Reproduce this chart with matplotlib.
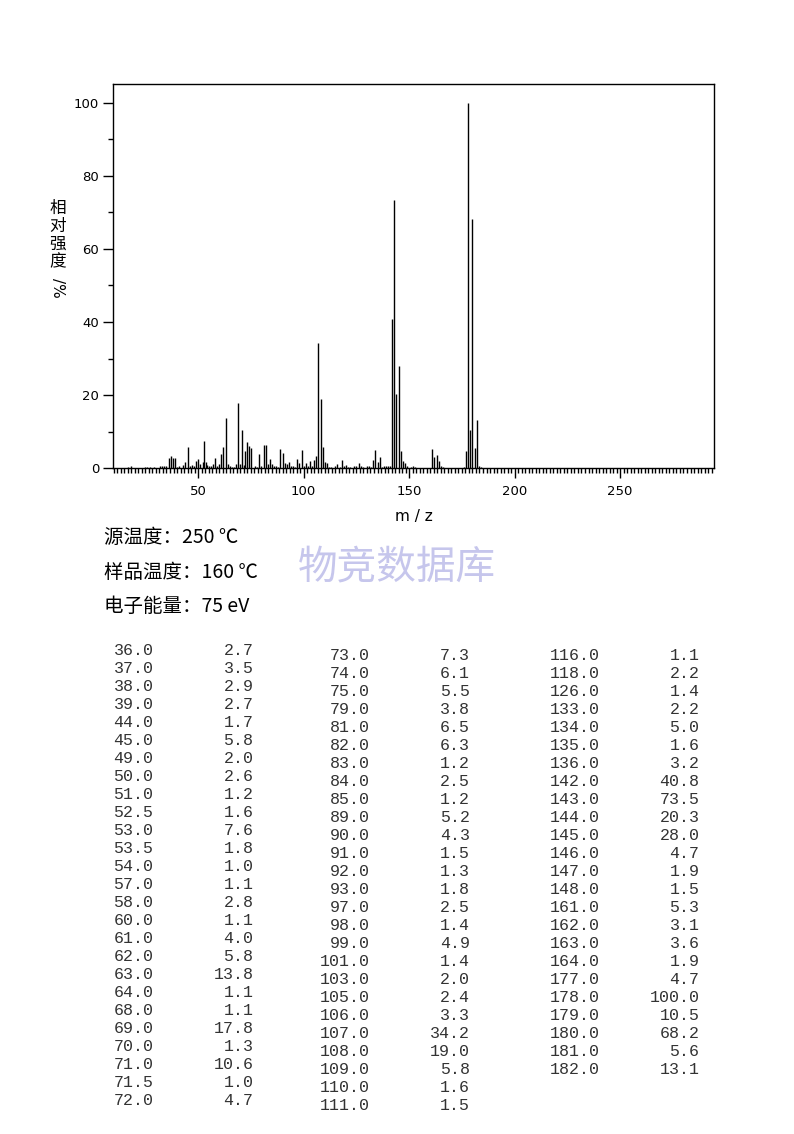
import numpy as np
import matplotlib
matplotlib.use("Agg")
import matplotlib.pyplot as plt
from matplotlib.ticker import FixedLocator

# ---- data: listed peaks (m/z, relative intensity %) ----
mz_col1 = [36.0, 37.0, 38.0, 39.0, 44.0, 45.0, 49.0, 50.0, 51.0, 52.5, 53.0, 53.5, 54.0,
           57.0, 58.0, 60.0, 61.0, 62.0, 63.0, 64.0, 68.0, 69.0, 70.0, 71.0, 71.5, 72.0]
int_col1 = [2.7, 3.5, 2.9, 2.7, 1.7, 5.8, 2.0, 2.6, 1.2, 1.6, 7.6, 1.8, 1.0,
            1.1, 2.8, 1.1, 4.0, 5.8, 13.8, 1.1, 1.1, 17.8, 1.3, 10.6, 1.0, 4.7]
mz_col2 = [73.0, 74.0, 75.0, 79.0, 81.0, 82.0, 83.0, 84.0, 85.0, 89.0, 90.0, 91.0, 92.0,
           93.0, 97.0, 98.0, 99.0, 101.0, 103.0, 105.0, 106.0, 107.0, 108.0, 109.0, 110.0, 111.0]
int_col2 = [7.3, 6.1, 5.5, 3.8, 6.5, 6.3, 1.2, 2.5, 1.2, 5.2, 4.3, 1.5, 1.3,
            1.8, 2.5, 1.4, 4.9, 1.4, 2.0, 2.4, 3.3, 34.2, 19.0, 5.8, 1.6, 1.5]
mz_col3 = [116.0, 118.0, 126.0, 133.0, 134.0, 135.0, 136.0, 142.0, 143.0, 144.0, 145.0, 146.0,
           147.0, 148.0, 161.0, 162.0, 163.0, 164.0, 177.0, 178.0, 179.0, 180.0, 181.0, 182.0]
int_col3 = [1.1, 2.2, 1.4, 2.2, 5.0, 1.6, 3.2, 40.8, 73.5, 20.3, 28.0, 4.7,
            1.9, 1.5, 5.3, 3.1, 3.6, 1.9, 4.7, 100.0, 10.5, 68.2, 5.6, 13.1]

# small unlisted peaks (<1 %) estimated from the plot
mz_minor = [17, 18, 25, 26, 27, 29, 32, 33, 34, 35, 40, 41, 43, 46, 47, 48, 55, 56, 59,
            65, 66, 67, 77, 78, 80, 86, 87, 88, 94, 95, 96, 100, 102, 104, 112, 113, 115,
            117, 119, 120, 121, 122, 124, 125, 127, 128, 130, 131, 132, 137, 138, 139, 140,
            141, 149, 151, 152, 153, 165, 166, 176, 183, 184]
int_minor = [0.3, 0.5, 0.3, 0.4, 0.4, 0.4, 0.5, 0.5, 0.5, 0.6, 0.4, 0.5, 0.8, 0.5, 0.9, 0.6, 0.6, 0.5, 0.5,
             0.5, 0.4, 0.4, 0.5, 0.4, 0.5, 0.7, 0.6, 0.4, 0.5, 0.5, 0.4, 0.6, 0.7, 0.6, 0.4, 0.4, 0.5,
             0.4, 0.5, 0.9, 0.4, 0.4, 0.5, 0.7, 0.5, 0.4, 0.5, 0.5, 0.4, 0.4, 0.5, 0.6, 0.5,
             0.6, 0.5, 0.4, 0.5, 0.4, 0.6, 0.4, 0.4, 0.5, 0.4]

info_lines = ["源温度：250 ℃", "样品温度：160 ℃", "电子能量：75 eV"]
watermark = "物竞数据库"
ylabel_cjk = "相对强度"
ylabel_tail = "/%"
xlabel = "m / z"

W, H = 794, 1134
fig = plt.figure(figsize=(W / 100, H / 100), dpi=100)
fig.patch.set_facecolor("white")

def fx(x):
    return x / W

def fy(y):
    return 1 - y / H

# axes box in pixels
L, R, T, B = 113.3, 714.3, 84.3, 468.3
ax = fig.add_axes([fx(L), fy(B), (R - L) / W, (B - T) / H])

mz_all = mz_col1 + mz_col2 + mz_col3
int_all = int_col1 + int_col2 + int_col3
ax.vlines(mz_minor, 0, int_minor, color="black", linewidth=1.0)
ax.vlines(mz_all, 0, int_all, color="black", linewidth=1.0)

ax.set_xlim(9.8, 294.6)
ax.set_ylim(0, 105)
for s in ax.spines.values():
    s.set_linewidth(1.0)
    s.set_color("black")

ax.xaxis.set_major_locator(FixedLocator([50, 100, 150, 200, 250]))
ax.xaxis.set_minor_locator(FixedLocator(list(np.arange(10, 294, 5 / 3))))
ax.yaxis.set_major_locator(FixedLocator([0, 20, 40, 60, 80, 100]))
ax.yaxis.set_minor_locator(FixedLocator([10, 30, 50, 70, 90]))
ax.tick_params(which="major", direction="out", length=7.2, width=1.0, labelsize=9.5,
               colors="black")
ax.tick_params(which="minor", direction="out", length=3.6, width=1.0)
ax.tick_params(axis="x", which="major", pad=4.5)
ax.tick_params(axis="y", which="major", pad=3)
ax.tick_params(top=False, right=False, which="both")

# x label
fig.text(fx(413.5), fy(516.5), xlabel, ha="center", va="center", fontsize=11,
         family="DejaVu Sans")

# y label: stacked CJK characters then rotated "/%"
cjk = ["Noto Sans CJK SC", "DejaVu Sans"]
for i, ch in enumerate(ylabel_cjk):
    fig.text(fx(57.5), fy(208.5 + i * 17.7), ch, ha="center", va="center",
             fontsize=12, family=cjk)
fig.text(fx(58), fy(287.5), ylabel_tail, ha="center", va="center", rotation=270,
         fontsize=11, family="DejaVu Sans")

# info lines
for i, line in enumerate(info_lines):
    fig.text(fx(104), fy(537.5 + i * 34.5), line, ha="left", va="center", fontsize=14,
             family=cjk)

# watermark
fig.text(fx(396.5), fy(567), watermark, ha="center", va="center", fontsize=28.5,
         family=cjk, color="#c6c6ec")

# table
mono = "Liberation Mono"
cols = [
    (mz_col1, int_col1, 153.5, 253.5, 650.5),
    (mz_col2, int_col2, 370, 470, 655.5),
    (mz_col3, int_col3, 600, 699.5, 655.5),
]
for mzs, ints, xm, xi, y0 in cols:
    for j, (m, v) in enumerate(zip(mzs, ints)):
        y = y0 + j * 18.0
        fig.text(fx(xm), fy(y), f"{m:.1f}", ha="right", va="center", fontsize=12,
                 family=mono, color="#333333")
        fig.text(fx(xi), fy(y), f"{v:.1f}", ha="right", va="center", fontsize=12,
                 family=mono, color="#333333")

fig.savefig("out.png", dpi=100, facecolor="white")
